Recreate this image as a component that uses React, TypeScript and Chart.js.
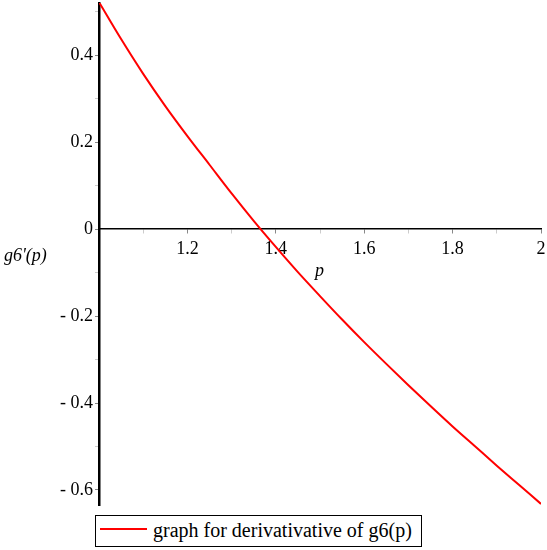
import { useEffect, useRef } from 'react';
import { Chart, registerables } from 'chart.js';

Chart.register(...registerables);

// values
const pValues = [1.0, 1.05, 1.1, 1.15, 1.2, 1.25, 1.3, 1.35, 1.4, 1.45, 1.5, 1.55, 1.6, 1.65, 1.7, 1.75, 1.8, 1.85, 1.9, 1.95, 2.0];
const derivValues = [0.522, 0.437, 0.357, 0.283, 0.214, 0.148, 0.082, 0.019, -0.041, -0.099, -0.154, -0.208, -0.26, -0.31, -0.359, -0.407, -0.454, -0.499, -0.544, -0.588, -0.632];

const xMajorTicks = [1.2, 1.4, 1.6, 1.8, 2];
const xMajorLabels = ['1.2', '1.4', '1.6', '1.8', '2'];
const xMinorTicks = [1.1, 1.3, 1.5, 1.7, 1.9];
const yMajorTicks = [-0.6, -0.4, -0.2, 0, 0.2, 0.4];
const yMajorLabels = ['- 0.6', '- 0.4', '- 0.2', '0', '0.2', '0.4'];
const yMinorTicks = [-0.5, -0.3, -0.1, 0.1, 0.3, 0.5];

const seriesLabel = 'graph for derivativative of g6(p)';
const serif = "'Liberation Serif', 'DejaVu Serif', serif";

const labelFor = (majors: number[], labels: string[], v: number) => {
  const i = majors.findIndex((m) => Math.abs(m - v) < 1e-6);
  return i >= 0 ? labels[i] : '';
};

const axisTitles = {
  id: 'axisTitles',
  afterDraw(chart: Chart) {
    const { ctx, chartArea } = chart;
    ctx.save();
    ctx.fillStyle = '#000';
    ctx.font = `italic 18px ${serif}`;
    ctx.textBaseline = 'alphabetic';
    ctx.fillText("g6'(p)", 4, 261);
    ctx.fillText('p', chartArea.left + 216, 276);
    ctx.restore();
  },
};

export default function App() {
  const ref = useRef<HTMLCanvasElement>(null);
  const chartRef = useRef<Chart | null>(null);

  useEffect(() => {
    if (!ref.current) return;
    const tickFont = { family: serif, size: 18 };

    chartRef.current?.destroy();
    chartRef.current = new Chart(ref.current, {
      type: 'line',
      data: {
        datasets: [{
          label: seriesLabel,
          data: pValues.map((p, i) => ({ x: p, y: derivValues[i] })),
          borderColor: '#ff0000',
          borderWidth: 2,
          pointRadius: 0,
          cubicInterpolationMode: 'monotone',
          fill: false,
        }],
      },
      options: {
        responsive: false,
        animation: false,
        layout: { autoPadding: false, padding: { left: 0, right: 6, top: 3, bottom: 5 } },
        plugins: { legend: { display: false }, tooltip: { enabled: false } },
        scales: {
          x: {
            type: 'linear',
            min: 1,
            max: 2,
            position: { y: 0 },
            afterBuildTicks: (axis: any) => {
              axis.ticks = [...xMajorTicks, ...xMinorTicks].sort((a, b) => a - b).map((v) => ({ value: v }));
            },
            afterFit: (s: any) => { s.paddingLeft = 0; s.paddingRight = 0; },
            grid: {
              drawOnChartArea: false,
              tickLength: 4,
              tickColor: (c: any) => (labelFor(xMajorTicks, xMajorLabels, c.tick?.value) ? '#888' : '#ccc'),
            },
            border: { display: true, color: '#000', width: 1.5 },
            ticks: {
              autoSkip: false,
              maxRotation: 0,
              padding: 5,
              color: '#000',
              font: tickFont,
              callback: (v: any) => labelFor(xMajorTicks, xMajorLabels, Number(v)),
            },
          },
          y: {
            type: 'linear',
            min: -0.6345,
            max: 0.52,
            afterBuildTicks: (axis: any) => {
              axis.ticks = [...yMajorTicks, ...yMinorTicks].sort((a, b) => a - b).map((v) => ({ value: v }));
            },
            afterFit: (s: any) => { s.width = 99; s.paddingTop = 0; s.paddingBottom = 0; },
            grid: {
              drawOnChartArea: false,
              tickLength: 4,
              tickColor: (c: any) => (labelFor(yMajorTicks, yMajorLabels, c.tick?.value) ? '#888' : '#ccc'),
            },
            border: { display: true, color: '#000', width: 2.5 },
            ticks: {
              autoSkip: false,
              padding: 2,
              color: '#000',
              font: tickFont,
              callback: (v: any) => labelFor(yMajorTicks, yMajorLabels, Number(v)),
            },
          },
        },
      },
      plugins: [axisTitles],
    });
    return () => { chartRef.current?.destroy(); };
  }, []);

  return (
    <div style={{ position: 'absolute', left: 0, top: 0, width: 547, height: 550, background: '#fff' }}>
      <canvas ref={ref} width={547} height={510} style={{ display: 'block' }} />
      <div style={{
        position: 'absolute', left: 95, top: 515, width: 327, height: 32, boxSizing: 'border-box',
        border: '1.5px solid #000', fontFamily: serif, fontSize: 20, lineHeight: '29px', whiteSpace: 'nowrap',
      }}>
        <span style={{ position: 'absolute', left: 4, top: 12, width: 47, height: 2, background: '#ff0000' }} />
        <span style={{ position: 'absolute', left: 57, top: 0 }}>{seriesLabel}</span>
      </div>
    </div>
  );
}
